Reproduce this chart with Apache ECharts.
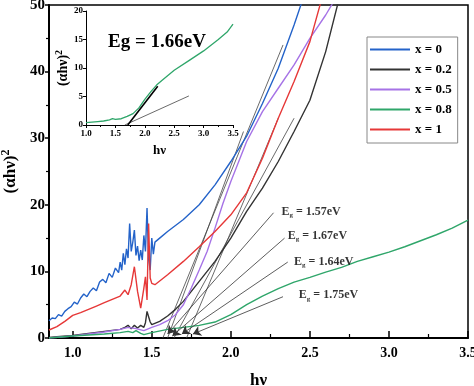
<!DOCTYPE html>
<html><head><meta charset="utf-8">
<script src="https://cdn.jsdelivr.net/npm/echarts@6/dist/echarts.min.js"></script>
<style>html,body{margin:0;padding:0;background:#fff}#c{width:474px;height:386px}</style>
</head><body><div id="c"></div>
<script>
const FONT = '"Liberation Serif","Times New Roman",serif';
const xTickLabels = [1.0, 1.5, 2.0, 2.5, 3.0, 3.5];
const xMinorTicks = [1.25, 1.75, 2.25, 2.75, 3.25];
const seriesNames = ['x = 0', 'x = 0.2', 'x = 0.5', 'x = 0.8', 'x = 1'];
const colors = ['#2463c9', '#333333', '#a673e6', '#2fa66a', '#e63838'];

const blue = [[0.85,2.6],[0.87,3.0],[0.89,2.9],[0.91,3.5],[0.93,3.3],[0.95,4.0],[0.97,4.4],[0.99,4.7],[1.01,5.4],[1.03,5.1],[1.05,6.0],[1.07,6.6],[1.09,6.2],[1.11,7.0],[1.13,7.5],[1.15,7.1],[1.17,8.4],[1.19,8.8],[1.21,8.3],[1.23,9.7],[1.25,9.1],[1.27,10.5],[1.29,9.8],[1.30,11.4],[1.31,10.2],[1.32,12.7],[1.33,11.0],[1.34,13.4],[1.35,12.0],[1.36,17.2],[1.37,13.0],[1.38,14.4],[1.39,16.2],[1.40,12.4],[1.41,13.8],[1.42,11.6],[1.43,13.2],[1.44,11.7],[1.45,15.4],[1.46,13.0],[1.47,19.5],[1.48,11.8],[1.49,10.2],[1.50,15.0],[1.51,12.6],[1.52,14.4],[1.55,15.0],[1.6,16.0],[1.7,17.8],[1.8,20.0],[1.9,23.0],[2.0,26.5],[2.1,30.3],[2.2,35.2],[2.3,40.5],[2.4,47.0],[2.45,50.5]];
const black = [[0.85,0.1],[0.9,0.2],[1.0,0.4],[1.1,0.7],[1.2,1.0],[1.3,1.3],[1.33,1.6],[1.35,1.9],[1.37,1.4],[1.39,1.9],[1.41,1.5],[1.43,1.9],[1.45,1.6],[1.46,2.3],[1.47,4.0],[1.48,3.2],[1.49,2.4],[1.5,2.0],[1.55,2.5],[1.6,3.3],[1.65,4.3],[1.7,5.5],[1.8,8.5],[1.9,11.5],[2.0,15.0],[2.1,19.0],[2.2,22.5],[2.3,26.5],[2.4,31.0],[2.5,35.7],[2.6,43.0],[2.68,50.5]];
const purple = [[0.85,0.0],[1.0,0.3],[1.1,0.6],[1.2,0.9],[1.3,1.3],[1.35,1.6],[1.4,1.4],[1.45,1.1],[1.5,1.6],[1.55,2.0],[1.6,2.6],[1.65,3.5],[1.7,5.0],[1.75,7.5],[1.8,10.2],[1.85,13.0],[1.9,16.5],[1.95,20.2],[2.0,23.5],[2.1,29.5],[2.2,34.0],[2.3,37.5],[2.4,41.0],[2.5,45.0],[2.6,48.5],[2.65,50.5]];
const green = [[0.85,0.0],[1.0,0.3],[1.2,0.6],[1.3,0.8],[1.35,1.0],[1.38,0.8],[1.4,1.1],[1.43,0.7],[1.45,0.5],[1.5,0.8],[1.6,1.3],[1.7,1.6],[1.8,1.9],[1.9,2.4],[2.0,3.5],[2.1,5.0],[2.2,6.3],[2.3,7.4],[2.4,8.4],[2.5,9.1],[2.6,9.9],[2.7,10.6],[2.8,11.5],[2.9,12.2],[3.0,12.9],[3.1,13.7],[3.2,14.6],[3.3,15.5],[3.4,16.5],[3.5,17.7]];
const red = [[0.85,1.2],[0.9,1.7],[0.95,2.5],[1.0,3.4],[1.05,3.8],[1.1,4.3],[1.15,4.8],[1.2,5.3],[1.25,5.8],[1.3,6.3],[1.33,7.2],[1.35,6.5],[1.37,8.0],[1.39,10.7],[1.41,7.0],[1.43,4.5],[1.45,7.5],[1.46,9.2],[1.47,5.7],[1.48,17.2],[1.49,9.0],[1.50,8.2],[1.52,8.0],[1.6,9.5],[1.7,11.5],[1.8,13.7],[1.9,16.0],[2.0,18.5],[2.1,21.8],[2.2,27.0],[2.3,33.0],[2.4,38.5],[2.5,44.5],[2.57,50.5]];

// tangent (extrapolation) lines
const tangents = [
  [[1.57,0],[2.33,44]],
  [[1.60,0],[2.08,31]],
  [[1.64,0],[2.40,33]],
  [[1.72,0],[2.30,33]]
];
// annotation arrows
const bandGaps = ['1.57', '1.67', '1.64', '1.75'];
const annoStart = [[2.27,18.8],[2.34,15.0],[2.36,11.4],[2.33,6.2]];
const annoTip = [[1.60,0.6],[1.63,0.3],[1.69,0.6],[1.76,0.6]];
const annoLabelPos = [[2.32,19.0],[2.36,15.3],[2.40,11.4],[2.43,6.4]];

// inset
const insetGreen = [[1.0,0.4],[1.1,0.5],[1.2,0.6],[1.3,0.7],[1.4,0.9],[1.45,1.1],[1.47,0.9],[1.5,1.0],[1.6,1.1],[1.7,1.5],[1.8,2.0],[1.9,3.0],[2.0,4.5],[2.1,5.8],[2.2,7.0],[2.3,7.9],[2.5,9.6],[2.75,11.3],[3.0,13.0],[3.25,15.0],[3.4,16.3],[3.5,17.7]];
const insetFit = [[1.71,0],[2.22,6.8]];
const insetTangent = [[1.66,0],[2.75,5.1]];
const insetEg = '1.66';

const chart = echarts.init(document.getElementById('c'), null, {renderer: 'canvas'});
const bold = {fontFamily: FONT, fontWeight: 'bold', color: '#000'};

const mainSeries = [blue, black, purple, green, red].map((d, i) => ({
  name: seriesNames[i], type: 'line', data: d, xAxisIndex: 0, yAxisIndex: 0,
  symbol: 'none', lineStyle: {color: colors[i], width: 1.4}, itemStyle: {color: colors[i]},
  clip: true, z: 3
}));

const tangentSeries = tangents.map(t => ({
  type: 'line', data: t, xAxisIndex: 0, yAxisIndex: 0, symbol: 'none',
  lineStyle: {color: '#444', width: 0.8}, silent: true, z: 2
}));

const arrowSeries = {
  type: 'lines', coordinateSystem: 'cartesian2d', xAxisIndex: 0, yAxisIndex: 0,
  symbol: ['none', 'arrow'], symbolSize: 8, silent: true, z: 4,
  lineStyle: {color: '#333', width: 0.8, opacity: 1, curveness: 0},
  itemStyle: {color: '#000'},
  data: annoStart.map((s, i) => ({coords: [s, annoTip[i]]}))
};

const labelSeries = {
  type: 'scatter', xAxisIndex: 0, yAxisIndex: 0, symbolSize: 0, silent: true, z: 5,
  data: annoLabelPos.map((p, i) => ({value: p, gap: bandGaps[i]})),
  label: {
    show: true, position: 'right', distance: 0,
    formatter: p => '{e|E}{s|g}{e| = ' + p.data.gap + 'eV}',
    rich: {
      e: {fontFamily: FONT, fontWeight: 'bold', fontSize: 12, color: '#000'},
      s: {fontFamily: FONT, fontWeight: 'bold', fontSize: 7, color: '#000', padding: [7, 0, 0, 0]}
    }
  }
};

const insetSeries = [
  {type: 'line', data: insetGreen, xAxisIndex: 2, yAxisIndex: 1, symbol: 'none', lineStyle: {color: colors[3], width: 1.3}, z: 3},
  {type: 'line', data: insetFit, xAxisIndex: 2, yAxisIndex: 1, symbol: 'none', lineStyle: {color: '#000', width: 1.6}, z: 4},
  {type: 'line', data: insetTangent, xAxisIndex: 2, yAxisIndex: 1, symbol: 'none', lineStyle: {color: '#444', width: 0.8}, z: 2}
];

chart.setOption({
  animation: false,
  backgroundColor: '#fff',
  grid: [
    {left: 49, right: 6, top: 5, bottom: 48, show: true, borderColor: '#000', borderWidth: 1.5, backgroundColor: 'transparent', containLabel: false, outerBoundsMode: 'none'},
    {left: 86, right: 241, top: 11, bottom: 261, show: false, containLabel: false, outerBoundsMode: 'none'}
  ],
  xAxis: [
    {type: 'value', gridIndex: 0, min: 0.85, max: 3.5, splitLine: {show: false}, position: 'bottom',
     axisLine: {onZero: false, lineStyle: {color: '#000', width: 2}},
     axisTick: {inside: true, length: 7, customValues: xTickLabels, lineStyle: {color: '#000', width: 1.5}},
     axisLabel: {customValues: xTickLabels, formatter: v => v.toFixed(1), ...bold, fontSize: 14, margin: 8},
     name: 'hν', nameLocation: 'middle', nameGap: 34, nameTextStyle: {...bold, fontSize: 17}},
    {type: 'value', gridIndex: 0, min: 0.85, max: 3.5, position: 'bottom', splitLine: {show: false},
     axisLine: {show: false, onZero: false},
     axisTick: {inside: true, length: 4, customValues: xMinorTicks, lineStyle: {color: '#000', width: 1.2}},
     axisLabel: {show: false}},
    {type: 'value', gridIndex: 1, min: 1.0, max: 3.5, interval: 0.5, splitLine: {show: false},
     axisLine: {onZero: false, lineStyle: {color: '#000', width: 1}},
     axisTick: {inside: false, length: 3, lineStyle: {color: '#000'}},
     minorTick: {show: true, splitNumber: 2, length: 2, lineStyle: {color: '#000'}},
     axisLabel: {formatter: v => v.toFixed(1), ...bold, fontSize: 9, margin: 4},
     name: 'hν', nameLocation: 'middle', nameGap: 19, nameTextStyle: {...bold, fontSize: 13}}
  ],
  yAxis: [
    {type: 'value', gridIndex: 0, min: 0, max: 50, interval: 10, splitLine: {show: false}, position: 'left',
     axisLine: {onZero: false, lineStyle: {color: '#000', width: 2}},
     axisTick: {inside: false, length: 4, lineStyle: {color: '#000', width: 1.5}},
     minorTick: {show: true, splitNumber: 2, length: 3, lineStyle: {color: '#000', width: 1.2}},
     axisLabel: {...bold, fontSize: 15, margin: 4},
     name: '{a|(αhν)}{b|2}', nameLocation: 'middle', nameGap: 21, nameRotate: 90,
     nameTextStyle: {rich: {a: {...bold, fontSize: 17}, b: {...bold, fontSize: 12, padding: [0, 0, 10, 0]}}}},
    {type: 'value', gridIndex: 1, min: 0, max: 20, interval: 5, splitLine: {show: false}, position: 'left',
     axisLine: {onZero: false, lineStyle: {color: '#000', width: 1}},
     axisTick: {inside: false, length: 3, lineStyle: {color: '#000'}},
     axisLabel: {...bold, fontSize: 9, margin: 3},
     name: '{a|(αhν)}{b|2}', nameLocation: 'middle', nameGap: 0, nameRotate: 90,
     nameTextStyle: {rich: {a: {...bold, fontSize: 14}, b: {...bold, fontSize: 10, padding: [0, 0, 8, 0]}}}}
  ],
  legend: {
    data: seriesNames, orient: 'vertical', left: 367, top: 37, width: 88,
    padding: [6, 6, 7, 3], itemGap: 7, itemWidth: 40, itemHeight: 2,
    icon: 'rect', borderColor: '#888', borderWidth: 1, backgroundColor: '#fff',
    textStyle: {...bold, fontSize: 13}
  },
  graphic: [
    {type: 'text', left: 108, top: 33, style: {text: 'Eg = ' + insetEg + 'eV', font: 'bold 19px ' + FONT, fill: '#000'}}
  ],
  series: [...tangentSeries, ...mainSeries, arrowSeries, labelSeries, ...insetSeries]
});
</script></body></html>
